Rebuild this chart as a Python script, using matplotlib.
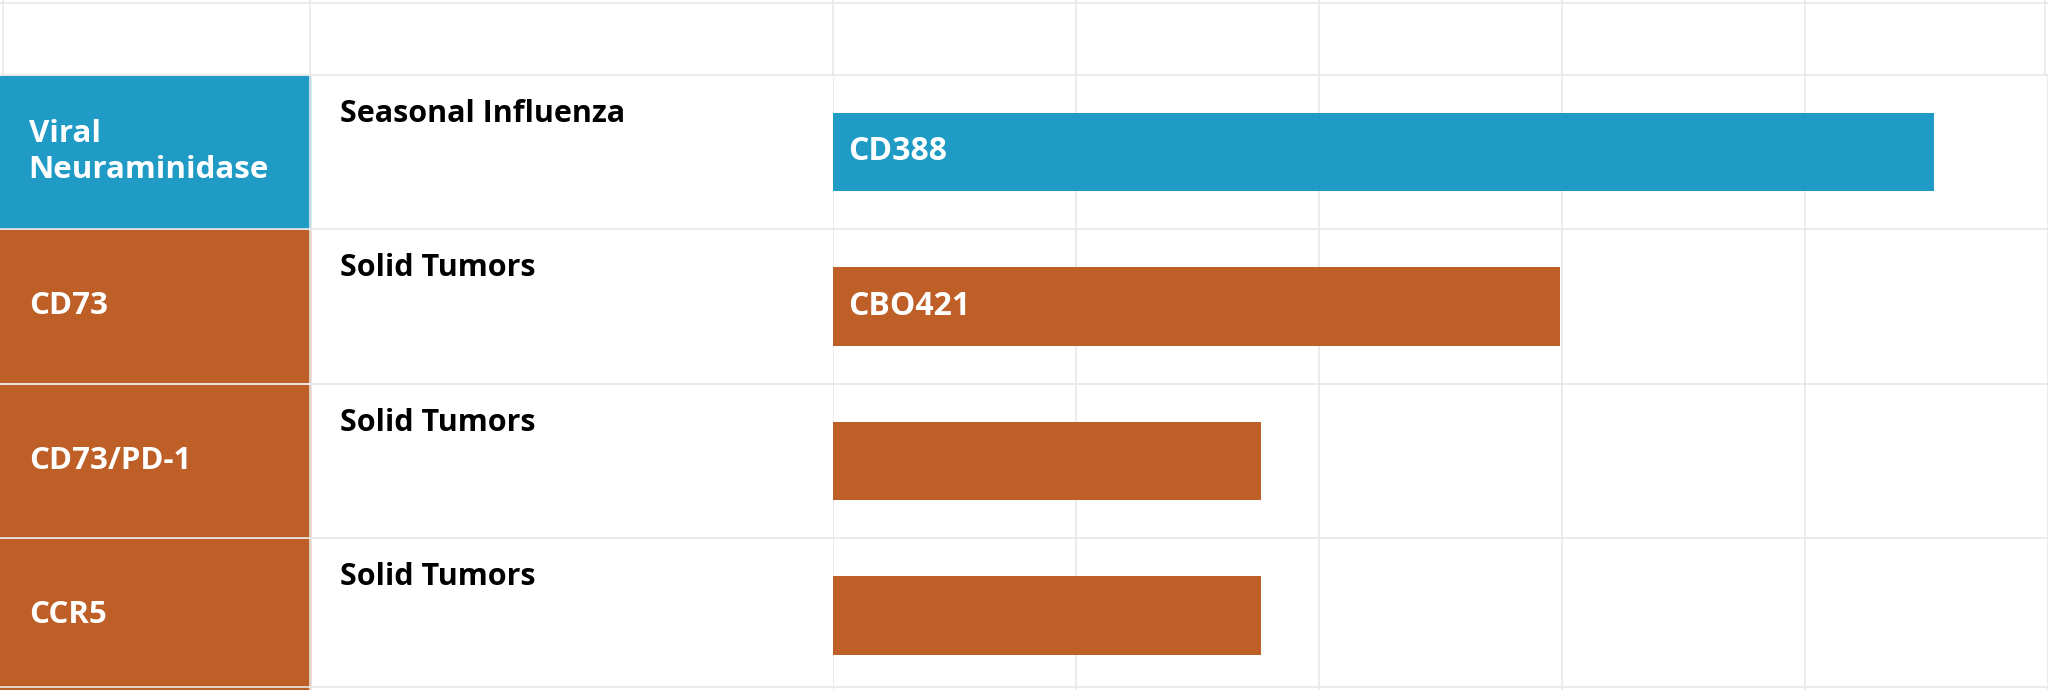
import matplotlib
matplotlib.use("Agg")
import matplotlib.pyplot as plt
from matplotlib.patches import Rectangle

targets = ["Viral\nNeuraminidase", "CD73", "CD73/PD-1", "CCR5"]
indications = ["Seasonal Influenza", "Solid Tumors", "Solid Tumors", "Solid Tumors"]
programs = ["CD388", "CBO421", "", ""]
progress = [4.53, 2.99, 1.76, 1.76]
colors = ["#1F9BC6", "#BE5F27", "#BE5F27", "#BE5F27"]

W, H = 1568.0, 527.0
fig = plt.figure(figsize=(20.48, 6.9), dpi=100)
fig.patch.set_facecolor("white")
grid = "#e8e8e8"
rows_top = [57, 175, 293, 411]
row_h = 118
font = "Open Sans"

ax = fig.add_axes([638 / W, 0, (W - 638) / W, (H - 57) / H])
ax.set_xlim(0, 5)
ax.set_ylim(3.5 + (527 - 529) / row_h, -0.5)
for x in range(0, 6):
    ax.axvline(x, color=grid, lw=1.2, zorder=0)
ax.barh(range(len(targets)), progress, height=60 / row_h, color=colors, left=0, zorder=2)
for i, p in enumerate(programs):
    if p:
        ax.text(0.06, i, p, color="white", fontsize=23, fontweight="bold",
                family=font, va="center", ha="left", zorder=3)
ax.axis("off")

def hline(y):
    fig.add_artist(plt.Line2D([0, 1], [1 - y / H, 1 - y / H], color=grid, lw=1.2))
def vline(x, y0=0, y1=H):
    fig.add_artist(plt.Line2D([x / W, x / W], [1 - y0 / H, 1 - y1 / H], color=grid, lw=1.2))
for y in [2, 57, 175, 293, 411, 525]:
    hline(y)
for x in [237, 638, 824, 1010, 1196, 1382, 1566]:
    vline(x, 0, 57)
vline(237, 57, H)
vline(2, 0, 57)

for i, (t, ind) in enumerate(zip(targets, indications)):
    top = rows_top[i]
    hgt = min(row_h - 2, 525 - top)
    fig.add_artist(Rectangle((0, 1 - (top + 1 + hgt) / H), 237 / W, hgt / H,
                             transform=fig.transFigure, color=colors[i], zorder=1))
    fig.text(22 / W, 1 - (top + row_h / 2) / H, t, color="white", fontsize=22.5,
             fontweight="bold", family=font, va="center", ha="left", linespacing=1.25)
    fig.text(260 / W, 1 - (top + 30) / H, ind, color="black", fontsize=22,
             fontweight="bold", family=font, va="center", ha="left")

fig.savefig("out.png", dpi=100, facecolor="white")
